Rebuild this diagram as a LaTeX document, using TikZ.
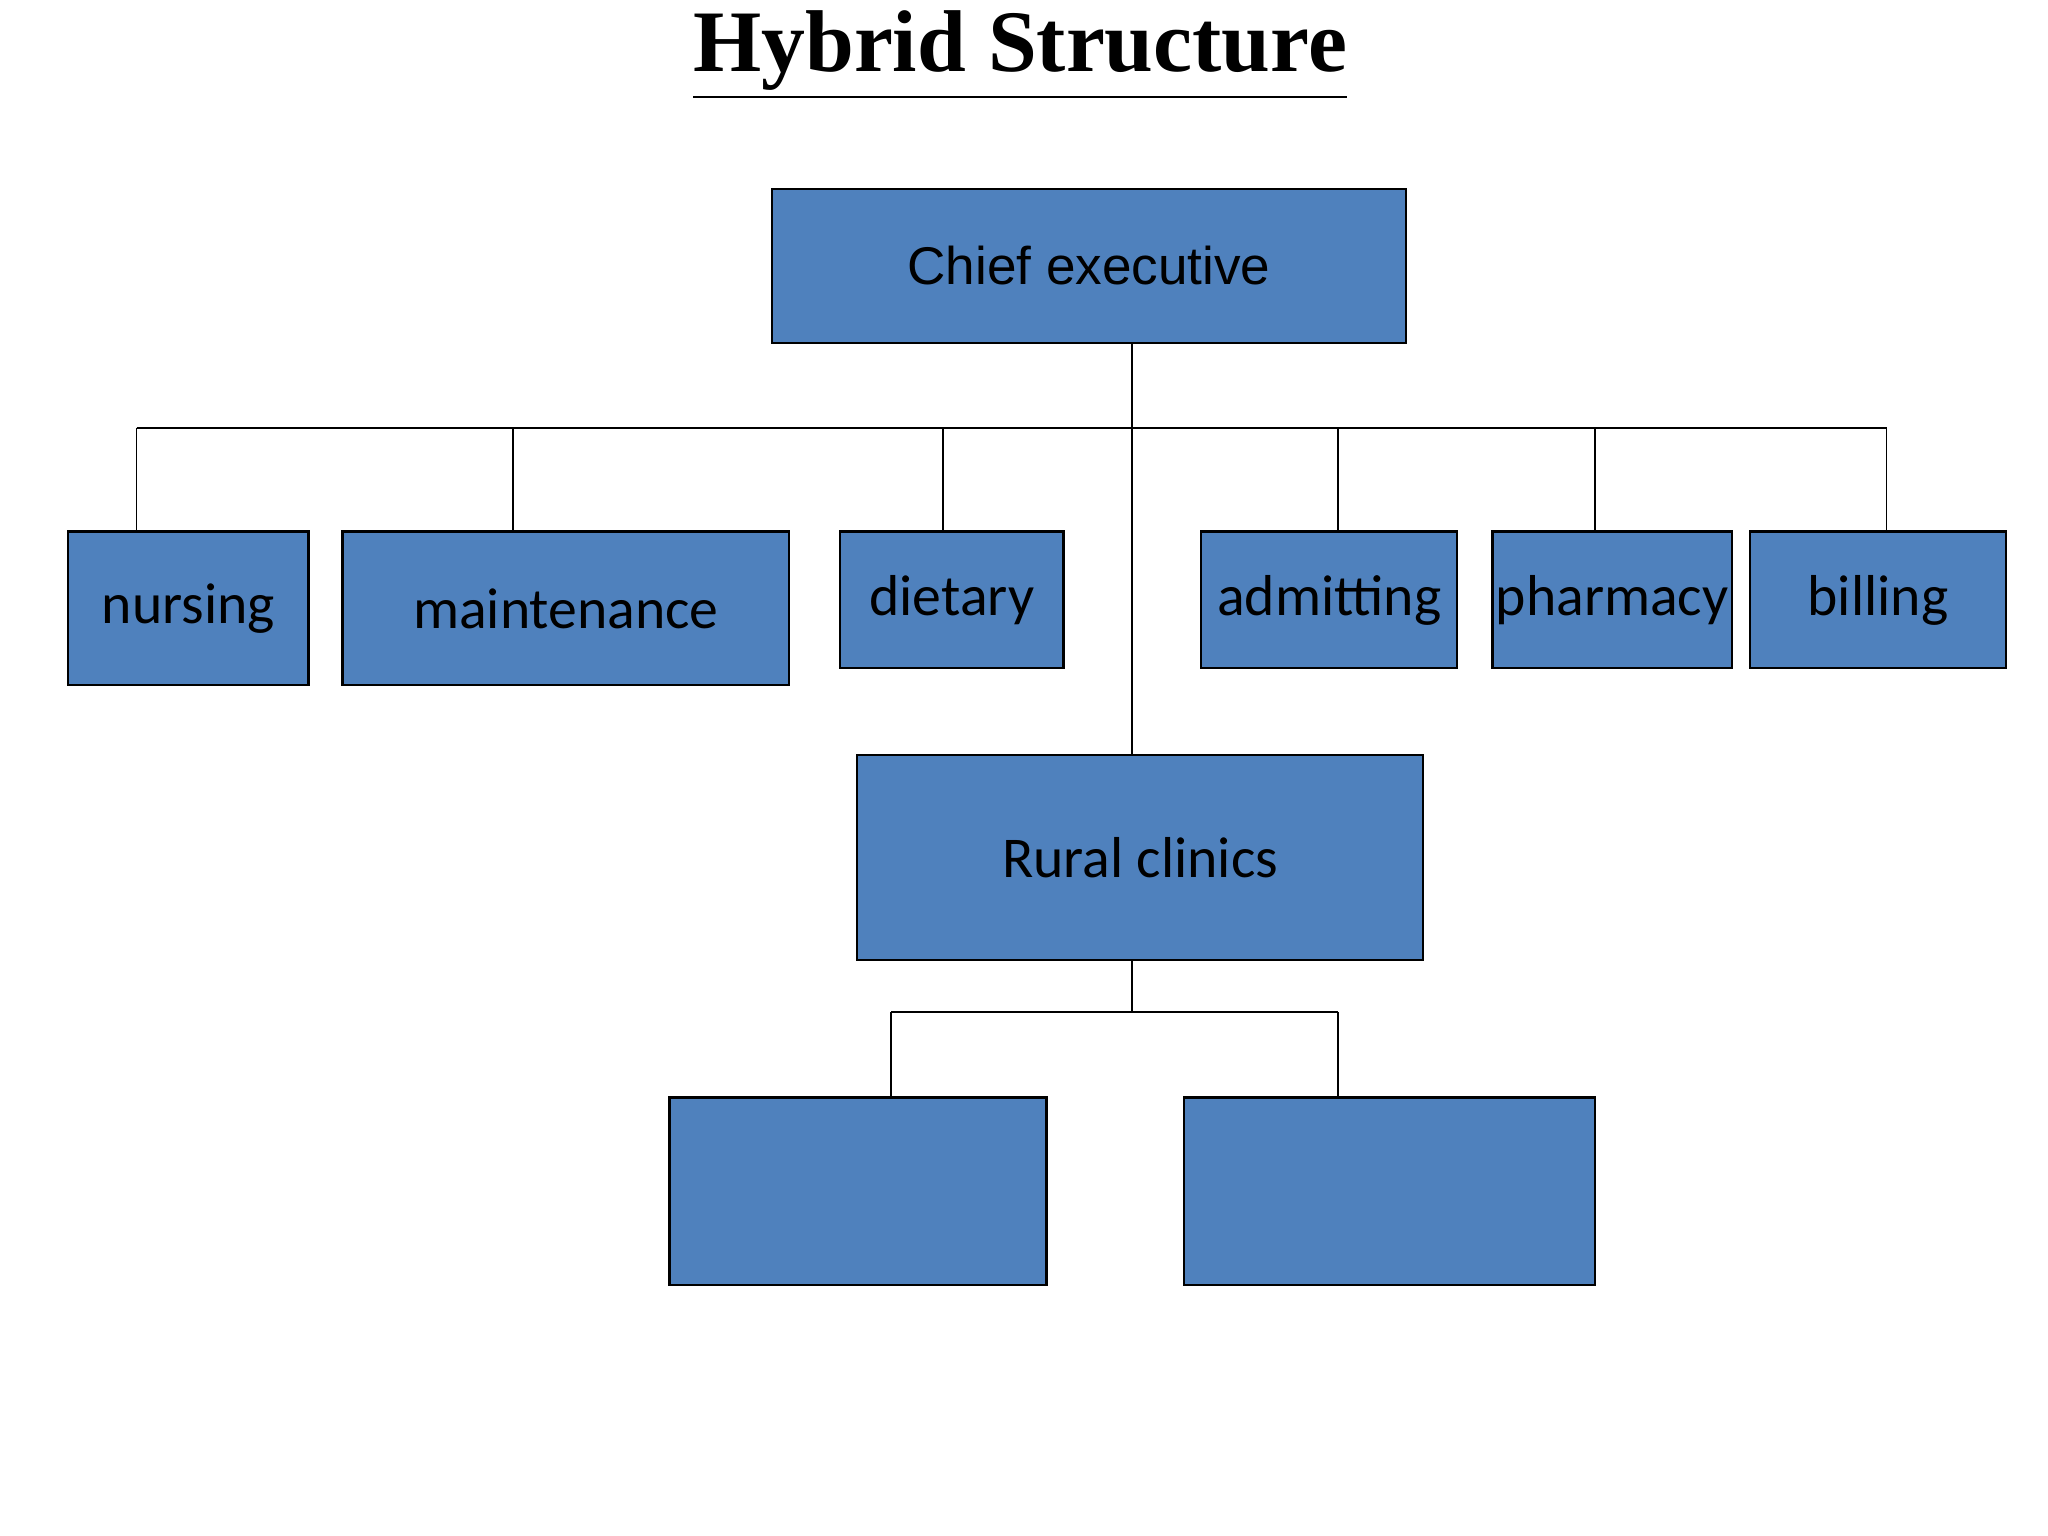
\documentclass[tikz,border=0pt]{standalone}
\usepackage{fontspec}
\setmainfont{Liberation Serif}
\newfontfamily\arialfont{Liberation Sans}
\newfontfamily\calfont{Carlito}
\usepackage{tikz}
\definecolor{boxblue}{HTML}{4F81BD}
\tikzstyle{Unit}=[rectangle, draw=black, fill=boxblue, line width=0.5pt, inner sep=0pt, font=\calfont\fontsize{12.5}{14}\selectfont]

\begin{document}
\begin{tikzpicture}[x=0.01cm, y=0.01cm]
    \useasboundingbox (0,0) rectangle (1560,-1170);
    \path
    (777,-42) node[font=\bfseries\fontsize{19}{22}\selectfont] (title) {\underline{Hybrid Structure}}
    (829.5,-202.5) node[Unit, minimum width=4.83cm, minimum height=1.17cm, font=\arialfont\fontsize{11.5}{14}\selectfont] (chief) {Chief executive}
    (143.5,-463.5) node[Unit, minimum width=1.83cm, minimum height=1.17cm] (nursing) {nursing}
    (431,-463.5) node[Unit, minimum width=3.40cm, minimum height=1.17cm] (maint) {maintenance}
    (725,-457) node[Unit, minimum width=1.70cm, minimum height=1.04cm] (dietary) {dietary}
    (1012.5,-457) node[Unit, minimum width=1.95cm, minimum height=1.04cm] (admit) {admitting}
    (1228,-457) node[Unit, minimum width=1.82cm, minimum height=1.04cm] (pharm) {pharmacy}
    (1430.5,-457) node[Unit, minimum width=1.95cm, minimum height=1.04cm] (billing) {billing}
    (868.5,-653) node[Unit, minimum width=4.31cm, minimum height=1.56cm] (rural) {Rural clinics}
    (653.5,-907.5) node[Unit, minimum width=2.87cm, minimum height=1.43cm] (clinA) {}
    (1058.5,-907.5) node[Unit, minimum width=3.13cm, minimum height=1.43cm] (clinB) {};

    % top bus
    \coordinate (busL) at (104,-326);
    \coordinate (busR) at (1437,-326);
    \coordinate (spine) at (862,-326);
    \draw (spine |- chief.south) -- (spine |- rural.north);
    \draw (busL) -- (busR);
    \foreach \x/\n in {104/nursing, 391/maint, 718/dietary, 1019/admit, 1215/pharm, 1437/billing}
        \draw (\x,-326) -- (\x,-326 |- \n.north);
    % lower bus
    \coordinate (lowL) at (679,-771);
    \coordinate (lowR) at (1019,-771);
    \draw (spine |- rural.south) -- (spine |- lowL);
    \draw (lowL) -- (lowR);
    \draw (lowL) -- (lowL |- clinA.north);
    \draw (lowR) -- (lowR |- clinB.north);
\end{tikzpicture}
\end{document}
